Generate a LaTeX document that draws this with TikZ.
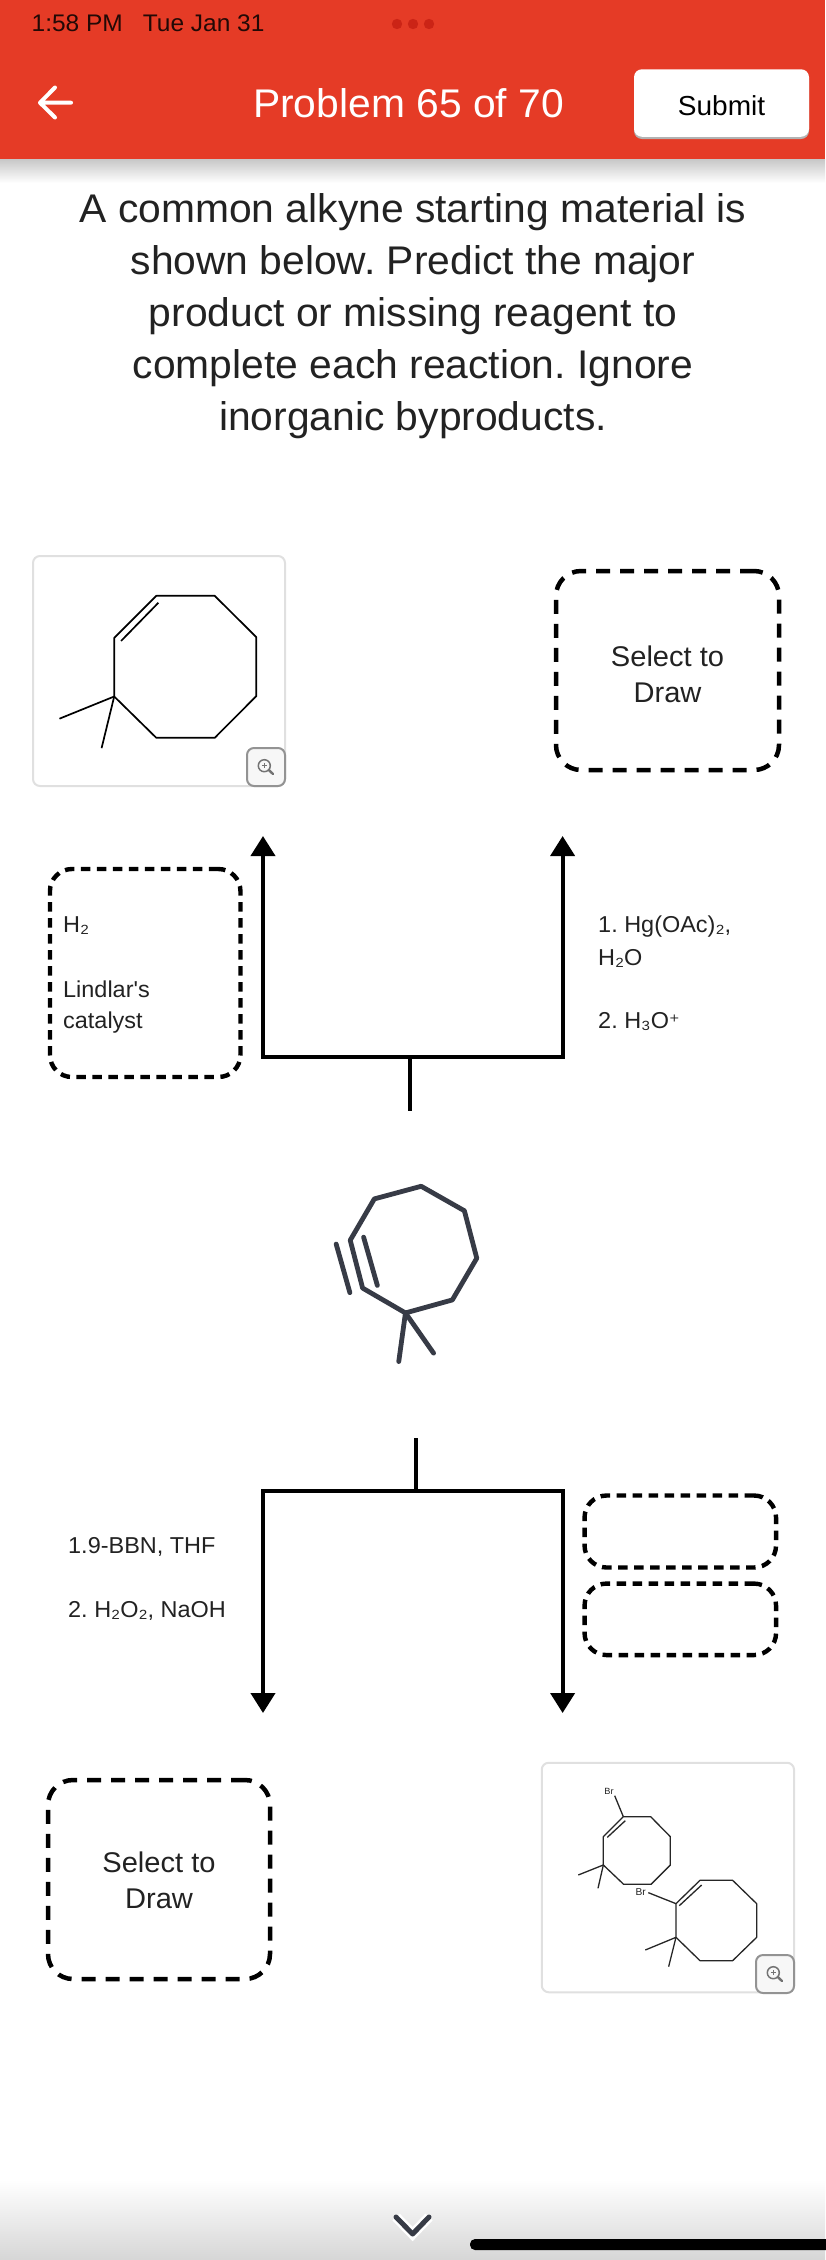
\documentclass[tikz,border=0pt]{standalone}
\usepackage{fontspec}
\setmainfont{Liberation Sans}[FakeStretch=1.02]
\newfontfamily\plainf{Liberation Sans}[FakeStretch=1.02]
\newfontfamily\supf{DejaVu Sans}
\AtBeginDocument{\frenchspacing}
\usetikzlibrary{arrows.meta}
\definecolor{hdr}{HTML}{E53B26}
\definecolor{dotred}{HTML}{CB2416}
\definecolor{slate}{HTML}{373B46}
\definecolor{ink}{HTML}{222222}
\definecolor{cardline}{HTML}{E0E0E0}
\tikzset{
  dashbig/.style={draw=black,line width=4.5pt,dash pattern=on 14pt off 10pt,rounded corners=25pt,align=center,inner sep=0pt,text=ink,font=\fontsize{28.5}{36}\selectfont},
  dashsmall/.style={draw=black,line width=4.4pt,dash pattern=on 9.5pt off 6.5pt,rounded corners=22pt,inner sep=0pt},
  flow/.style={draw=black,line width=4pt},
  flowarrow/.style={flow,-{Triangle[length=20pt,width=24pt]}},
  label/.style={font=\plainf\fontsize{23}{32}\selectfont,text=ink,inner sep=0pt,anchor=base west},
  card/.style={draw=cardline,line width=2pt,fill=white,rounded corners=7pt,inner sep=0pt},
  zoombtn/.style={draw=gray!85,line width=2pt,fill=black!3,rounded corners=7pt,inner sep=0pt,minimum width=38pt,minimum height=38pt},
  bond/.style={draw=black,line width=1.7pt,line join=round},
  thinbond/.style={draw=black!85,line width=1.3pt,line join=round},
  slatebond/.style={draw=slate,line width=4.8pt,line join=round,line cap=round},
}
\newcommand{\magicon}[2]{%
  \begin{scope}[shift={(#1,#2)}]
    \draw[gray!90!black,line width=1.5pt] (-1.7,-1.3) circle (6pt);
    \draw[gray!90!black,line width=1pt] (-4.2,-1.3) -- (0.8,-1.3) (-1.7,-3.8) -- (-1.7,1.2);
    \draw[gray!90!black,line width=2.4pt,line cap=round] (2.8,3) -- (7,7);
  \end{scope}}
\begin{document}
\begin{tikzpicture}[x=1pt,y=-1pt]
\useasboundingbox (0,0) rectangle (825,2260);
\fill[white] (0,0) rectangle (825,2260);
% bottom fade and header shadow
\shade[top color=white,bottom color=black!16] (0,2180) rectangle (825,2260);
\shade[top color=black!22,bottom color=white] (0,159) rectangle (825,183);
\fill[hdr] (0,0) rectangle (825,159);
% status bar
\node[inner sep=0pt,anchor=base west,font=\fontsize{24}{28}\selectfont,text=black!85!hdr] (status) at (31.5,31) {1:58 PM\hspace{20pt}Tue Jan 31};
\foreach \i/\xx in {a/397,b/413,c/429} \fill[dotred] (\xx,24) circle (5.2pt);
% back arrow
\draw[white,line width=4pt,line cap=round,line join=round] (71,102.7) -- (40,102.7) (55,87.5) -- (40,102.7) -- (55,117.5);
\node[inner sep=0pt,anchor=base,font=\fontsize{40}{44}\selectfont,text=white] (title) at (408.5,117) {Problem 65 of 70};
\fill[black!30,rounded corners=8pt] (634,72) rectangle (809,139);
\node[fill=white,rounded corners=8pt,inner sep=0pt,minimum width=175pt,minimum height=67.5pt,text depth=0pt,font=\fontsize{27.5}{32}\selectfont,text=black] (submit) at (721.5,103) {\rule{0pt}{24pt}Submit};
% question
\node[align=center,inner sep=0pt,text=ink,font=\fontsize{40}{52}\selectfont] (question) at (413,316) {A common alkyne starting material is\\shown below. Predict the major\\product or missing reagent to\\complete each reaction. Ignore\\inorganic byproducts.};
% cards
\node[card,minimum width=252pt,minimum height=230pt] (cardA) at (159,671) {};
\begin{scope}[shift={(0,530)},x=0.5263pt,y=-0.3827pt]
  \draw[bond] (217,282) -- (297,172) -- (408,172) -- (487,280) -- (487,434) -- (408,543) -- (297,543) -- (217,435) -- cycle;
  \draw[bond] (230,290) -- (301,190);
  \draw[bond] (217,435) -- (113,493);
  \draw[bond] (217,435) -- (193,570);
\end{scope}
\node[zoombtn] (btnA) at (266,767) {};
\magicon{266}{767}
\node[dashbig,minimum width=223pt,minimum height=199pt] (selA) at (667.5,670.5) {\rule{0pt}{28pt}Select to\\Draw};
\node[dashsmall,minimum width=190.5pt,minimum height=208pt] (boxH) at (145.2,973) {};
\node[label] (tH) at (63,932.6) {H₂};
\node[label] (tL) at (63,997) {Lindlar's};
\node[label] (tC) at (63,1028.6) {catalyst};
\node[label] (tHg) at (598,932.6) {1. Hg(OAc)₂,};
\node[label] (tW) at (598,965) {H₂O};
\node[label] (tA) at (598,1028.6) {2. H₃O{\supf\fontsize{20}{24}\selectfont ⁺}};
% upper bracket
\coordinate (uStem) at (410,1110.5);
\coordinate (uMid) at (410,1057);
\coordinate (uL) at (263,1057);
\coordinate (uR) at (562.6,1057);
\coordinate (uLtip) at (263,836);
\coordinate (uRtip) at (562.6,836);
\draw[flow] (uStem) -- (uMid);
\draw[flowarrow] (uMid) -- (uL) -- (uLtip);
\draw[flowarrow] (uMid) -- (uR) -- (uRtip);
% alkyne
\begin{scope}[shift={(300,1130)},x=0.3348pt,y=-0.3827pt]
  \draw[slatebond] (150,288) -- (222,180) -- (362,147) -- (491,211) -- (528,335) -- (455,444) -- (315,478) -- (187,413) -- cycle;
  \draw[slatebond] (108,298) -- (149,425);
  \draw[slatebond] (190,280) -- (231,406);
  \draw[slatebond] (315,478) -- (295,605);
  \draw[slatebond] (315,478) -- (399,583);
\end{scope}
% lower bracket
\coordinate (lStem) at (415.5,1438);
\coordinate (lMid) at (415.5,1491);
\coordinate (lL) at (263,1491);
\coordinate (lR) at (562.6,1491);
\coordinate (lLtip) at (263,1713);
\coordinate (lRtip) at (562.6,1713);
\draw[flow] (lStem) -- (lMid);
\draw[flowarrow] (lMid) -- (lL) -- (lLtip);
\draw[flowarrow] (lMid) -- (lR) -- (lRtip);
\node[label] (tB) at (68,1553) {1.9-BBN, THF};
\node[label] (tO) at (68,1617) {2. H₂O₂, NaOH};
\node[dashsmall,minimum width=191.5pt,minimum height=72pt] (boxU) at (680.3,1531.5) {};
\node[dashsmall,minimum width=191.5pt,minimum height=71.5pt] (boxV) at (680.3,1619.3) {};
\node[dashbig,minimum width=222pt,minimum height=199pt] (selB) at (159,1879.5) {\rule{0pt}{21.5pt}Select to\\Draw};
% product card
\node[card,minimum width=252.3pt,minimum height=229.5pt] (cardB) at (667.9,1877.5) {};
\begin{scope}[shift={(520,1740)},x=0.3333pt,y=-0.3333pt]
  \draw[thinbond] (310,230) -- (392,230) -- (451,290) -- (451,375) -- (393,433) -- (311,433) -- (250,375) -- (250,290) -- cycle;
  \draw[thinbond] (262,292) -- (316,242);
  \draw[thinbond] (310,230) -- (284,167);
  \draw[thinbond] (250,375) -- (175,405);
  \draw[thinbond] (250,375) -- (234,445);
  \draw[thinbond] (540,421) -- (638,421) -- (710,491) -- (710,592) -- (638,662) -- (540,662) -- (468,592) -- (468,491) -- cycle;
  \draw[thinbond] (478,497) -- (545,435);
  \draw[thinbond] (468,491) -- (385,458);
  \draw[thinbond] (468,592) -- (376,630);
  \draw[thinbond] (468,592) -- (446,680);
  \node[inner sep=0pt,font=\fontsize{9}{10}\selectfont,text=ink] (brA) at (267,153) {Br};
  \node[inner sep=0pt,font=\fontsize{10}{10}\selectfont,text=ink] (brB) at (362,456) {Br};
\end{scope}
\node[zoombtn] (btnB) at (775,1974) {};
\magicon{775}{1974}
% footer
\draw[white,line width=10pt,line join=miter] (396,2217) -- (412.6,2234) -- (429,2217);
\draw[slate,line width=5pt,line cap=round,line join=round] (396,2217) -- (412.6,2234) -- (429,2217);
\fill[black,rounded corners=5pt] (470,2239) rectangle (840,2250);
\end{tikzpicture}
\end{document}
